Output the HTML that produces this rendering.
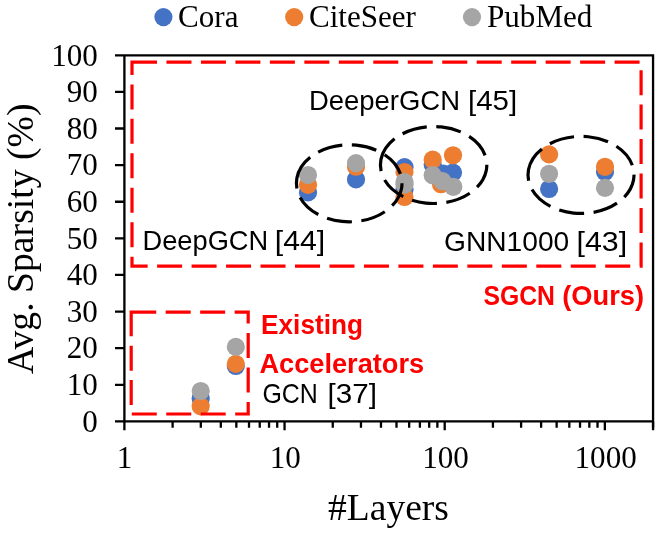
<!DOCTYPE html>
<html><head><meta charset="utf-8"><title>Sparsity vs Layers</title>
<style>html,body{margin:0;padding:0;background:#fff;}svg{display:block;}.s{font-family:"Liberation Serif",serif;fill:#000;}.a{font-family:"Liberation Sans",sans-serif;fill:#000;}.r{font-family:"Liberation Sans",sans-serif;fill:#f00;font-weight:bold;}</style></head><body>
<svg width="664" height="534" viewBox="0 0 664 534">
<rect width="664" height="534" fill="#fff"/>
<circle cx="163.4" cy="17.1" r="9.1" fill="#4472C4"/>
<text class="s" x="178.0" y="27" font-size="31.1">Cora</text>
<circle cx="294.2" cy="17.1" r="9.1" fill="#ED7D31"/>
<text class="s" x="308.9" y="27" font-size="31.1">CiteSeer</text>
<circle cx="472" cy="17.1" r="9.1" fill="#A5A5A5"/>
<text class="s" x="487.0" y="27" font-size="31.1">PubMed</text>
<g stroke="#000" stroke-width="2.3" fill="none" stroke-linecap="butt">
<path d="M124.40 430.3 V55.30 M115.0 55.30 H653.06 M653.06 54.15 V430.3 M115 421.40 H654.21"/>
<path d="M115 384.79 H124.40 M115 348.18 H124.40 M115 311.57 H124.40 M115 274.96 H124.40 M115 238.35 H124.40 M115 201.74 H124.40 M115 165.13 H124.40 M115 128.52 H124.40 M115 91.91 H124.40 "/>
<path d="M172.61 421.40 V427.8 M200.81 421.40 V427.8 M220.82 421.40 V427.8 M236.34 421.40 V427.8 M249.02 421.40 V427.8 M259.74 421.40 V427.8 M269.03 421.40 V427.8 M277.22 421.40 V427.8 M284.55 421.40 V430.3 M332.76 421.40 V427.8 M360.96 421.40 V427.8 M380.97 421.40 V427.8 M396.49 421.40 V427.8 M409.17 421.40 V427.8 M419.89 421.40 V427.8 M429.18 421.40 V427.8 M437.37 421.40 V427.8 M444.70 421.40 V430.3 M492.91 421.40 V427.8 M521.11 421.40 V427.8 M541.12 421.40 V427.8 M556.64 421.40 V427.8 M569.32 421.40 V427.8 M580.04 421.40 V427.8 M589.33 421.40 V427.8 M597.52 421.40 V427.8 M604.85 421.40 V430.3 M653.06 421.40 V427.8 "/>
</g>
<text class="s" x="97.9" y="431.60" font-size="31.1" text-anchor="end">0</text>
<text class="s" x="97.9" y="394.99" font-size="31.1" text-anchor="end">10</text>
<text class="s" x="97.9" y="358.38" font-size="31.1" text-anchor="end">20</text>
<text class="s" x="97.9" y="321.77" font-size="31.1" text-anchor="end">30</text>
<text class="s" x="97.9" y="285.16" font-size="31.1" text-anchor="end">40</text>
<text class="s" x="97.9" y="248.55" font-size="31.1" text-anchor="end">50</text>
<text class="s" x="97.9" y="211.94" font-size="31.1" text-anchor="end">60</text>
<text class="s" x="97.9" y="175.33" font-size="31.1" text-anchor="end">70</text>
<text class="s" x="97.9" y="138.72" font-size="31.1" text-anchor="end">80</text>
<text class="s" x="97.9" y="102.11" font-size="31.1" text-anchor="end">90</text>
<text class="s" x="97.9" y="65.50" font-size="31.1" text-anchor="end">100</text>
<text class="s" x="124.40" y="467.5" font-size="31.1" text-anchor="middle">1</text>
<text class="s" x="285.35" y="467.5" font-size="31.1" text-anchor="middle">10</text>
<text class="s" x="445.50" y="467.5" font-size="31.1" text-anchor="middle">100</text>
<text class="s" x="605.65" y="467.5" font-size="31.1" text-anchor="middle">1000</text>
<text class="s" x="388.5" y="520.1" font-size="37.5" text-anchor="middle">#Layers</text>
<text class="s" transform="translate(33.4 238.7) rotate(-90)" font-size="37.7" text-anchor="middle">Avg. Sparsity (%)</text>
<g fill="#4472C4">
<circle cx="200.7" cy="398.4" r="9.1"/>
<circle cx="235.8" cy="366.0" r="9.1"/>
<circle cx="308" cy="192.4" r="9.1"/>
<circle cx="356" cy="179.4" r="9.1"/>
<circle cx="404.5" cy="167.2" r="9.1"/>
<circle cx="404.5" cy="189.5" r="9.1"/>
<circle cx="432.7" cy="164.6" r="9.1"/>
<circle cx="443.3" cy="173.5" r="9.1"/>
<circle cx="453" cy="172.6" r="9.1"/>
<circle cx="549.1" cy="189" r="9.1"/>
<circle cx="605" cy="171.7" r="9.1"/>
</g>
<g fill="#ED7D31">
<circle cx="200.7" cy="406.3" r="9.1"/>
<circle cx="235.8" cy="363.9" r="9.1"/>
<circle cx="308" cy="184.8" r="9.1"/>
<circle cx="356" cy="166.7" r="9.1"/>
<circle cx="404.5" cy="172" r="9.1"/>
<circle cx="404.5" cy="197" r="9.1"/>
<circle cx="432.7" cy="159.7" r="9.1"/>
<circle cx="441" cy="184.2" r="9.1"/>
<circle cx="453" cy="155.3" r="9.1"/>
<circle cx="549.1" cy="154.4" r="9.1"/>
<circle cx="605" cy="166.8" r="9.1"/>
</g>
<g fill="#A5A5A5">
<circle cx="200.7" cy="391.0" r="9.1"/>
<circle cx="235.8" cy="346.9" r="9.1"/>
<circle cx="308" cy="175" r="9.1"/>
<circle cx="356" cy="163.1" r="9.1"/>
<circle cx="404.5" cy="182" r="9.1"/>
<circle cx="404.5" cy="184.5" r="9.1"/>
<circle cx="432.7" cy="175.2" r="9.1"/>
<circle cx="442.5" cy="181.2" r="9.1"/>
<circle cx="453.3" cy="186.8" r="9.1"/>
<circle cx="549.1" cy="173.8" r="9.1"/>
<circle cx="605" cy="187.9" r="9.1"/>
</g>
<g stroke="#f00" stroke-width="3.2" fill="none" stroke-dasharray="25 9.47">
<path d="M132 62.2 H641.1 V266.1 H132 Z"/>
<path d="M131.2 312.2 H248.2 V414 H131.2 Z"/>
</g>
<g stroke="#000" stroke-width="3.2" fill="none" stroke-dasharray="25.2 9.5">
<path d="M296.88 178.13 A52.8 38.5 0 0 1 356.29 145.15 A52.8 38.5 0 0 1 401.52 188.47 A52.8 38.5 0 0 1 342.11 221.45 A52.8 38.5 0 0 1 296.88 178.13 Z"/>
<path d="M380.96 159.43 A53.2 38.5 0 0 1 441.29 126.90 A53.2 38.5 0 0 1 486.24 170.57 A53.2 38.5 0 0 1 425.91 203.10 A53.2 38.5 0 0 1 380.96 159.43 Z"/>
<path d="M528.50 169.63 A53 38.5 0 0 1 588.25 136.76 A53 38.5 0 0 1 633.50 180.17 A53 38.5 0 0 1 573.75 213.04 A53 38.5 0 0 1 528.50 169.63 Z"/>
</g>
<text class="a" y="249.7" font-size="27.6"><tspan x="142.56" textLength="125.67" lengthAdjust="spacingAndGlyphs">DeepGCN</tspan> <tspan x="274.76" textLength="50.48" lengthAdjust="spacingAndGlyphs">[44]</tspan></text>
<text class="a" y="110.0" font-size="27.6"><tspan x="308.98" textLength="151.03" lengthAdjust="spacingAndGlyphs">DeeperGCN</tspan> <tspan x="468.03" textLength="49.14" lengthAdjust="spacingAndGlyphs">[45]</tspan></text>
<text class="a" y="251.4" font-size="27.6"><tspan x="444.00" textLength="125.21" lengthAdjust="spacingAndGlyphs">GNN1000</tspan> <tspan x="576.56" textLength="50.66" lengthAdjust="spacingAndGlyphs">[43]</tspan></text>
<text class="a" y="402.5" font-size="27.6"><tspan x="262.40" textLength="55.39" lengthAdjust="spacingAndGlyphs">GCN</tspan> <tspan x="327.61" textLength="49.37" lengthAdjust="spacingAndGlyphs">[37]</tspan></text>
<text class="r" y="305.2" font-size="27.6"><tspan x="483.40" textLength="71.59" lengthAdjust="spacingAndGlyphs">SGCN</tspan> <tspan x="562.21" textLength="81.79" lengthAdjust="spacingAndGlyphs">(Ours)</tspan></text>
<text class="r" y="333.6" font-size="27.6"><tspan x="261.10" textLength="101.81" lengthAdjust="spacingAndGlyphs">Existing</tspan></text>
<text class="r" y="372.7" font-size="27.6"><tspan x="259.39" textLength="164.83" lengthAdjust="spacingAndGlyphs">Accelerators</tspan></text>
</svg></body></html>
